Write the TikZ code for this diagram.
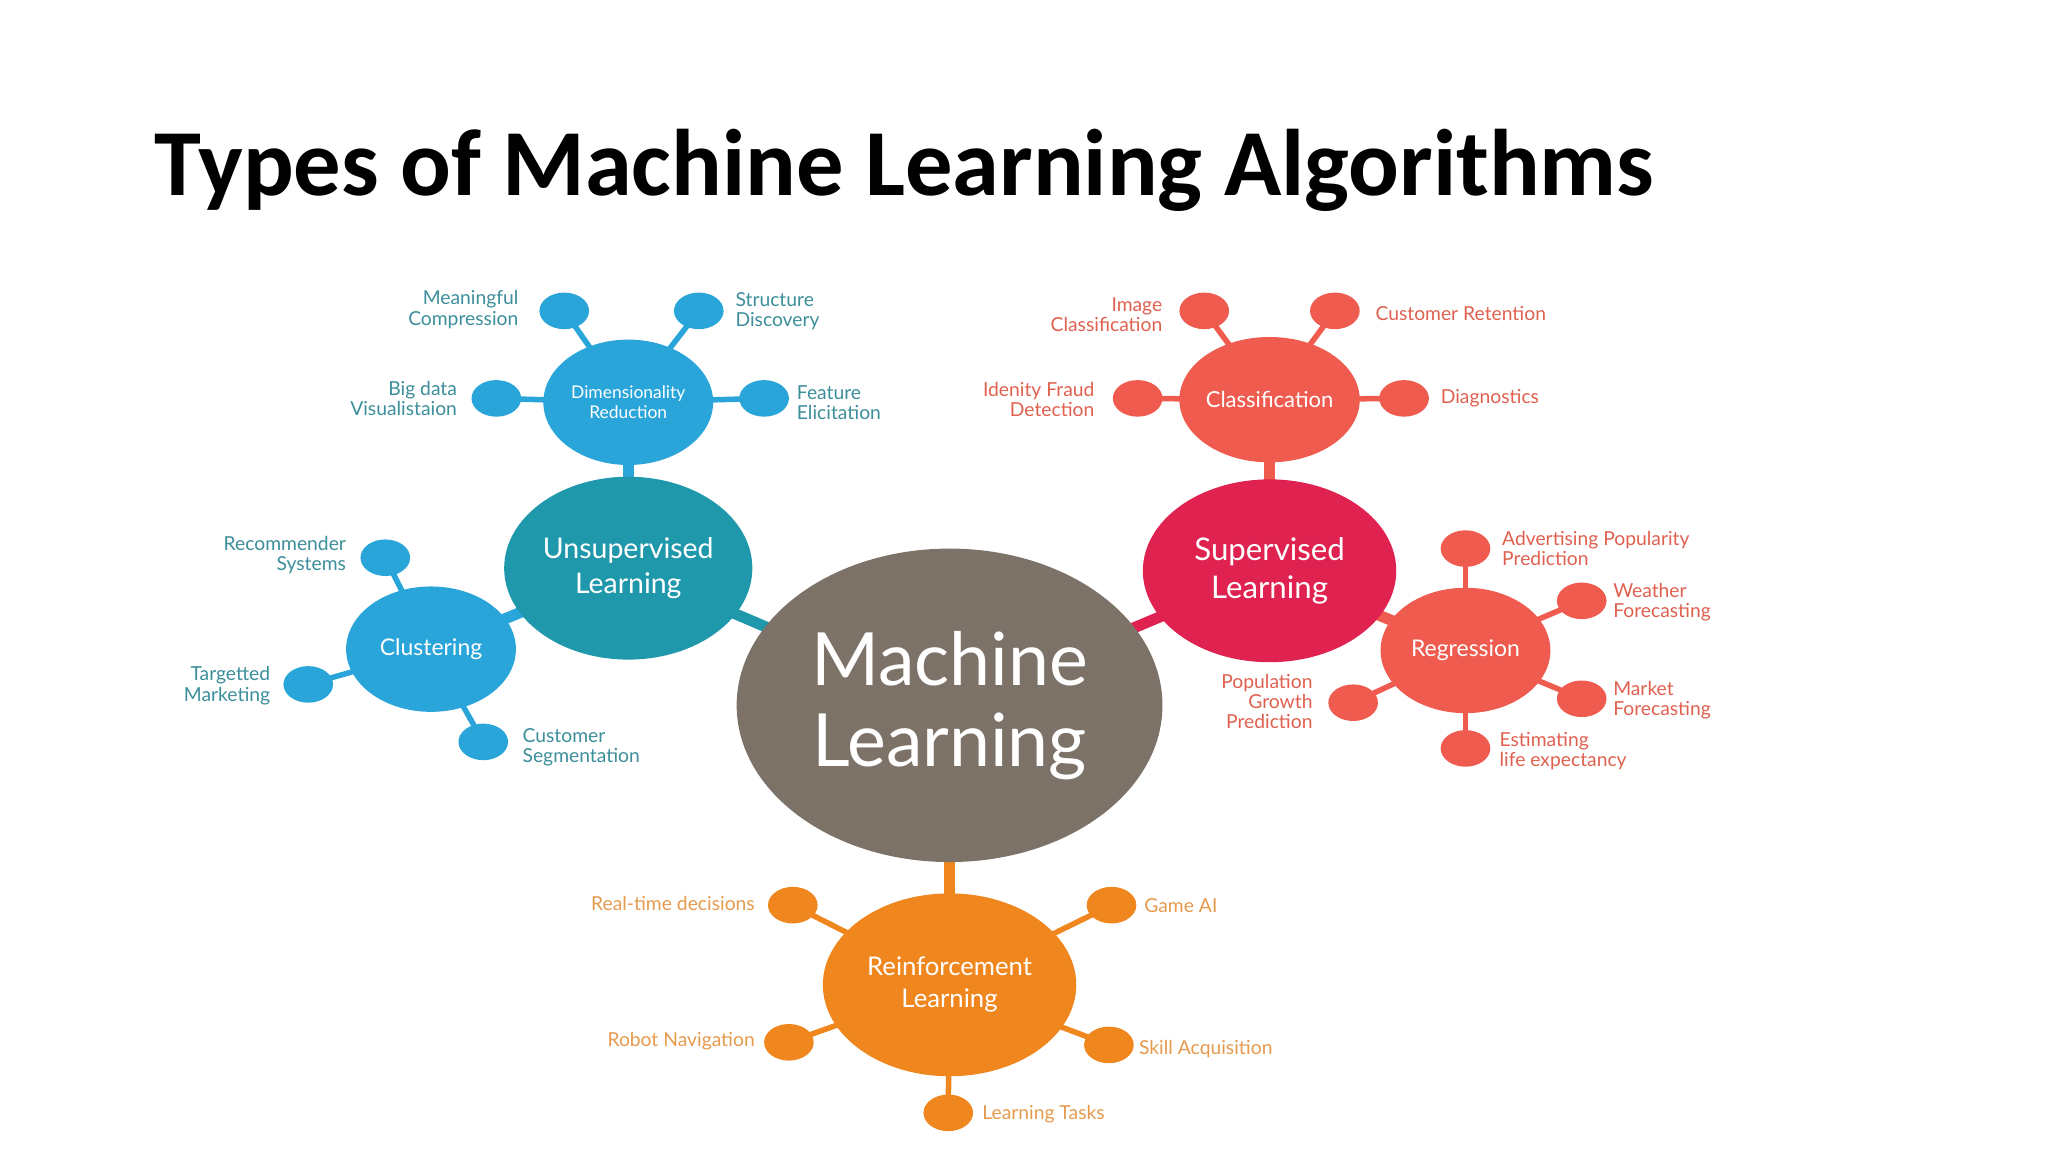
\documentclass[tikz,border=0pt]{standalone}
\usepackage{fontspec}
\setmainfont{Carlito}
\newfontfamily\lab{Lato}
\usetikzlibrary{shapes.geometric,backgrounds}
\definecolor{mlc}{HTML}{7D7268}
\definecolor{unc}{HTML}{1F98AC}
\definecolor{blc}{HTML}{2AA5DA}
\definecolor{suc}{HTML}{DF2250}
\definecolor{sac}{HTML}{EF5B4E}
\definecolor{orc}{HTML}{F0861E}
\definecolor{tl}{HTML}{3C8E9A}
\definecolor{sl}{HTML}{E0604F}
\definecolor{ol}{HTML}{E59A4E}
\tikzset{
 blob/.style={ellipse,inner sep=0pt,text=white,align=center,font=\lab},
 big/.style={blob,minimum height=70mm},
 mid/.style={blob,minimum width=65mm,minimum height=48mm},
 leaf/.style={ellipse,inner sep=0pt,minimum width=19mm,minimum height=14mm},
 lbl/.style={font=\lab\fontsize{21}{22}\selectfont,align=center,inner sep=0pt},
 lblr/.style={lbl,anchor=east,align=right},
 lbll/.style={lbl,anchor=west,align=left},
 thick1/.style={line width=12pt},
 thin1/.style={line width=6pt}
}
\begin{document}
\begin{tikzpicture}[x=0.5mm,y=-0.5mm]
\useasboundingbox (0,0) rectangle (1568,882);
\node[anchor=base west,inner sep=0pt,font=\bfseries\fontsize{103}{110}\selectfont] (title) at (118,150) {Types of Machine Learning Algorithms};
% main
\node[blob,fill=mlc,minimum width=163mm,minimum height=120mm,font=\lab\fontsize{80}{88}\selectfont] (ml) at (727,540) {Machine\\Learning};
\node[big,fill=unc,minimum width=95mm,font=\lab\fontsize{31}{38}\selectfont] (un) at (481,435) {Unsupervised\\Learning};
\node[big,fill=suc,minimum width=97mm,font=\lab\fontsize{34}{42}\selectfont] (su) at (972,437) {Supervised\\Learning};
\node[big,fill=orc,minimum width=97mm,font=\lab\fontsize{28}{35}\selectfont] (re) at (727,754) {Reinforcement\\Learning};
\node[mid,fill=blc,font=\lab\fontsize{19}{22}\selectfont] (dr) at (481,308) {Dimensionality\\Reduction};
\node[mid,fill=blc,font=\lab\fontsize{25}{26}\selectfont] (cl) at (330,497) {Clustering};
\node[mid,fill=sac,font=\lab\fontsize{24}{26}\selectfont] (ca) at (972,306) {Classification};
\node[mid,fill=sac,font=\lab\fontsize{25}{26}\selectfont] (rg) at (1122,498) {Regression};
% leaves
\node[leaf,fill=blc] (d1) at (432,238) {};
\node[leaf,fill=blc] (d2) at (535,238) {};
\node[leaf,fill=blc] (d3) at (380,305) {};
\node[leaf,fill=blc] (d4) at (585,305) {};
\node[leaf,fill=blc] (c1) at (295,427) {};
\node[leaf,fill=blc] (c2) at (236,524) {};
\node[leaf,fill=blc] (c3) at (370,568) {};
\node[leaf,fill=sac] (k1) at (922,238) {};
\node[leaf,fill=sac] (k2) at (1022,238) {};
\node[leaf,fill=sac] (k3) at (871,305) {};
\node[leaf,fill=sac] (k4) at (1075,305) {};
\node[leaf,fill=sac] (r1) at (1122,420) {};
\node[leaf,fill=sac] (r2) at (1211,460) {};
\node[leaf,fill=sac] (r3) at (1211,535) {};
\node[leaf,fill=sac] (r4) at (1122,573) {};
\node[leaf,fill=sac] (r5) at (1036,538) {};
\node[leaf,fill=orc] (o1) at (607,693) {};
\node[leaf,fill=orc] (o2) at (851,693) {};
\node[leaf,fill=orc] (o3) at (604,798) {};
\node[leaf,fill=orc] (o4) at (849,800) {};
\node[leaf,fill=orc] (o5) at (726,852) {};
\begin{scope}[on background layer]
\draw[thick1,unc] (ml.center) -- (un.center);
\draw[thick1,suc] (ml.center) -- (su.center);
\draw[thick1,orc] (ml.center) -- (re.center);
\draw[thick1,blc] (un.center) -- (dr.center);
\draw[thick1,blc] (un.center) -- (cl.center);
\draw[thick1,sac] (su.center) -- (ca.center);
\draw[thick1,sac] (su.center) -- (rg.center);
\foreach \l in {d1,d2,d3,d4} \draw[thin1,blc] (dr.center) -- (\l.center);
\foreach \l in {c1,c2,c3} \draw[thin1,blc] (cl.center) -- (\l.center);
\foreach \l in {k1,k2,k3,k4} \draw[thin1,sac] (ca.center) -- (\l.center);
\foreach \l in {r1,r2,r3,r4,r5} \draw[thin1,sac] (rg.center) -- (\l.center);
\foreach \l in {o1,o2,o3,o4,o5} \draw[thin1,orc] (re.center) -- (\l.center);
\end{scope}
% labels
\begin{scope}[text=tl]
\node[lblr] (t1) at (397,237) {Meaningful\\Compression};
\node[lbll] (t2) at (563,238) {Structure\\Discovery};
\node[lblr] (t3) at (350,305) {Big data\\Visualistaion};
\node[lbll] (t4) at (610,308) {Feature\\Elicitation};
\node[lblr] (t5) at (265,425) {Recommender\\Systems};
\node[lblr] (t6) at (207,525) {Targetted\\Marketing};
\node[lbll] (t7) at (400,572) {Customer\\Segmentation};
\end{scope}
\begin{scope}[text=sl]
\node[lblr] (s1) at (890,241) {Image\\Classification};
\node[lbll] (s2) at (1053,240) {Customer Retention};
\node[lblr] (s3) at (838,306) {Idenity Fraud\\Detection};
\node[lbll] (s4) at (1103,305) {Diagnostics};
\node[lbll] (s5) at (1150,420) {Advertising Popularity\\Prediction};
\node[lbll] (s6) at (1235,461) {Weather\\Forecasting};
\node[lbll] (s7) at (1235,536) {Market\\Forecasting};
\node[lbll] (s8) at (1148,575) {Estimating\\life expectancy};
\node[lbl,align=right] (s9) at (970,537) {Population\\Growth\\Prediction};
\end{scope}
\begin{scope}[text=ol]
\node[lblr] (q1) at (578,692) {Real-time decisions};
\node[lbll] (q2) at (876,693) {Game AI};
\node[lblr] (q3) at (578,797) {Robot Navigation};
\node[lbll] (q4) at (872,803) {Skill Acquisition};
\node[lbll] (q5) at (752,853) {Learning Tasks};
\end{scope}
\end{tikzpicture}
\end{document}
